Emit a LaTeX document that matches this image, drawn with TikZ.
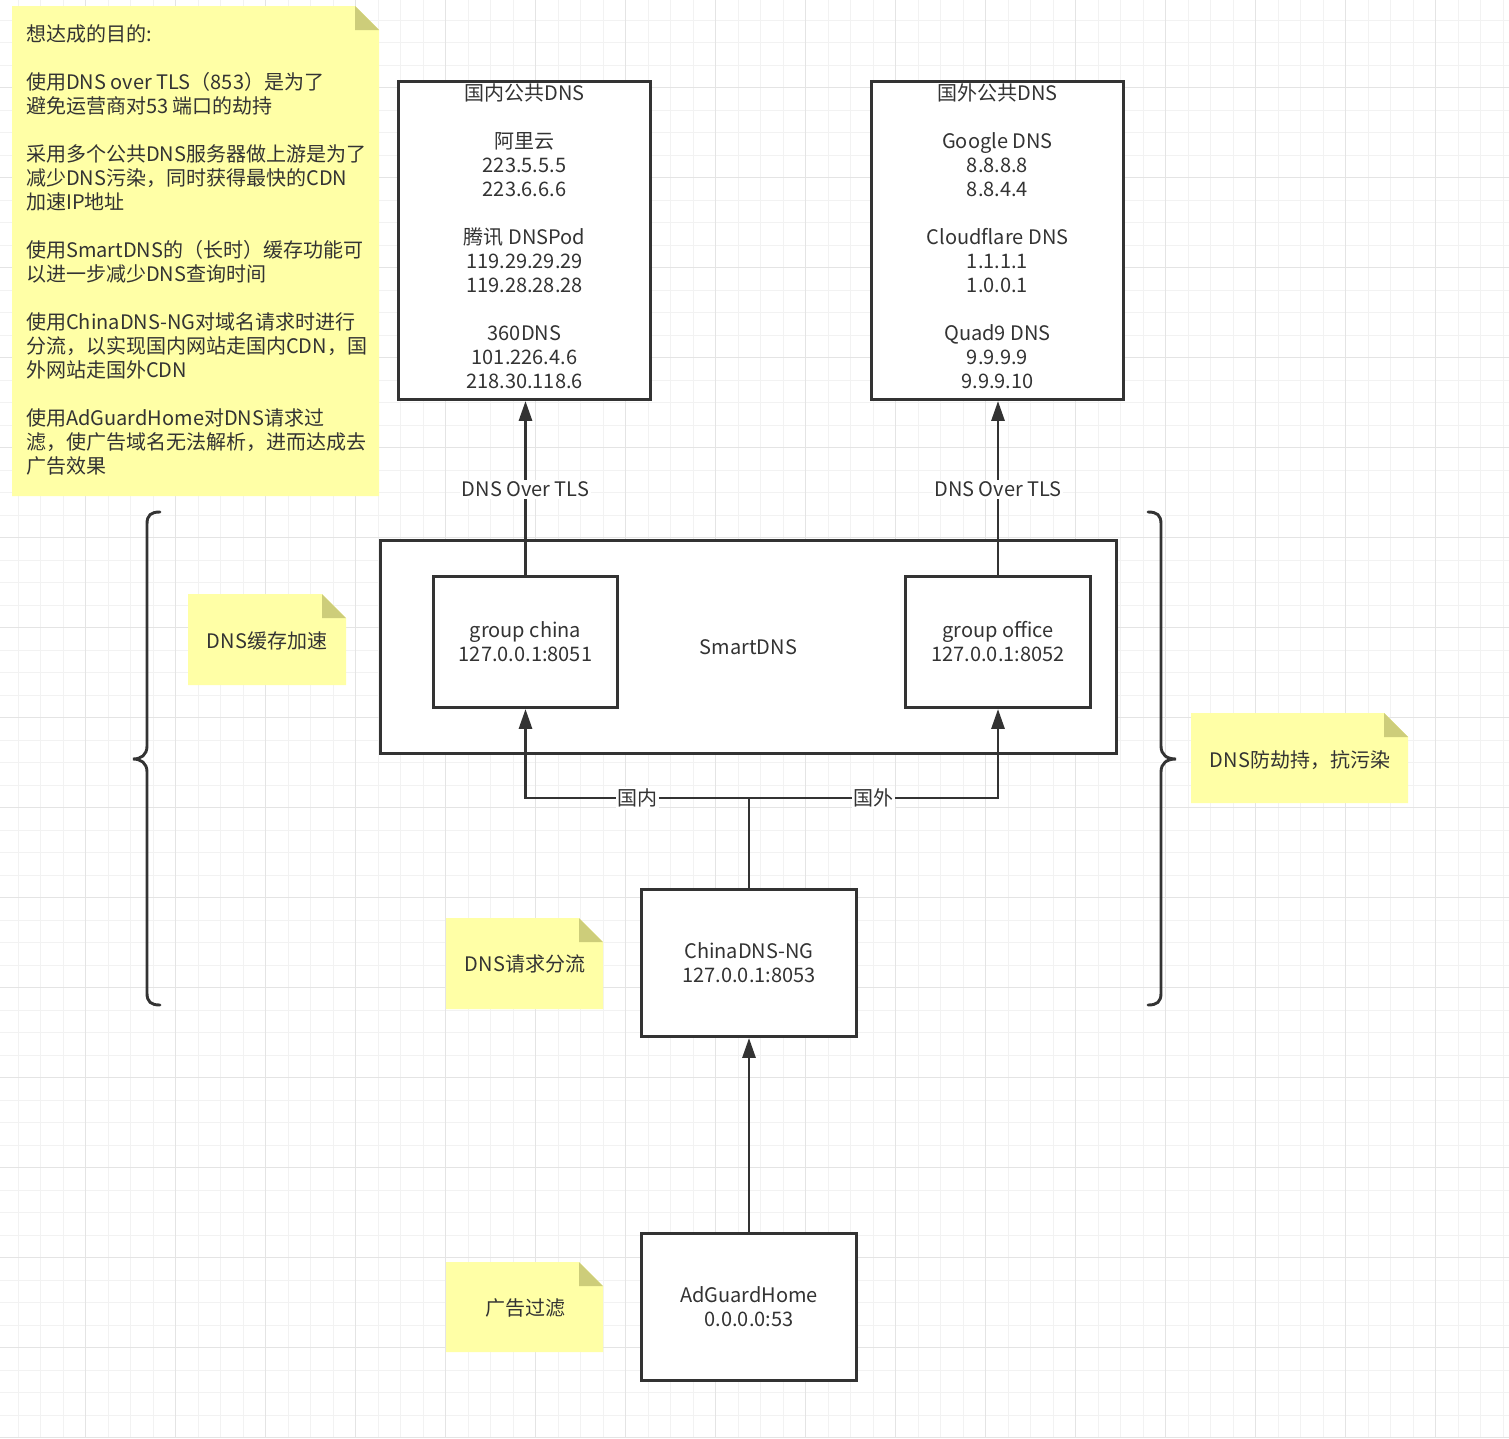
\documentclass[tikz,border=0pt]{standalone}
\usepackage{fontspec}
\setmainfont{Noto Sans CJK SC}
\usetikzlibrary{arrows.meta}
\definecolor{ink}{HTML}{333333}
\definecolor{gridminor}{HTML}{F2F2F2}
\definecolor{gridmajor}{HTML}{E4E4E4}
\definecolor{notefill}{HTML}{FFFFA6}
\definecolor{notefold}{HTML}{CDCD7A}
\begin{document}
\begin{tikzpicture}[x=1pt,y=-1pt,
  txt/.style={font=\fontsize{20}{24}\selectfont, text=ink, inner sep=0pt},
  box/.style={draw=ink, line width=2.9pt, fill=white, inner sep=0pt},
  lbl/.style={txt, fill=white, inner sep=1.5pt},
  conn/.style={draw=ink, line width=2.9pt, -{Triangle[length=20pt,width=13pt]}},
  brace/.style={draw=ink, line width=2.9pt, line cap=round},
  notebg/.style={fill=notefill},
  notecorner/.style={fill=notefold}]
\useasboundingbox (0,0) rectangle (1509,1438);
\fill[white] (0,0) rectangle (1509,1438);
% grid
\foreach \k in {0,...,66}{\draw[gridminor, line width=1.2pt] ({18.2+22.5*\k},0) -- ({18.2+22.5*\k},1438);}
\foreach \k in {0,...,63}{\draw[gridminor, line width=1.2pt] (0,{20.2+22.5*\k}) -- (1509,{20.2+22.5*\k});}
\foreach \k in {3,7,...,66}{\draw[gridmajor, line width=1.2pt] ({18.2+22.5*\k},0) -- ({18.2+22.5*\k},1438);}
\foreach \k in {3,7,...,63}{\draw[gridmajor, line width=1.2pt] (0,{20.2+22.5*\k}) -- (1509,{20.2+22.5*\k});}

% big note
\fill[notebg] (12,6) -- (355,6) -- (379,30) -- (379,496) -- (12,496) -- cycle;
\fill[notecorner] (355,6) -- (355,30) -- (379,30) -- cycle;
\node[txt, align=left, anchor=west] (goal) at (26,250) {想达成的目的:\\[24pt]使用DNS over TLS（853）是为了\\避免运营商对53 端口的劫持\\[24pt]采用多个公共DNS服务器做上游是为了\\减少DNS污染，同时获得最快的CDN\\加速IP地址\\[24pt]使用SmartDNS的（长时）缓存功能可\\以进一步减少DNS查询时间\\[24pt]使用ChinaDNS-NG对域名请求时进行\\分流，以实现国内网站走国内CDN，国\\外网站走国外CDN\\[24pt]使用AdGuardHome对DNS请求过\\滤，使广告域名无法解析，进而达成去\\广告效果};

% small notes
\fill[notebg] (188,594) -- (322,594) -- (346,618) -- (346,685) -- (188,685) -- cycle;
\fill[notecorner] (322,594) -- (322,618) -- (346,618) -- cycle;
\node[txt] (n1) at (267,641) {DNS缓存加速};

\fill[notebg] (1191,713) -- (1384,713) -- (1408,737) -- (1408,803) -- (1191,803) -- cycle;
\fill[notecorner] (1384,713) -- (1384,737) -- (1408,737) -- cycle;
\node[txt] (n2) at (1300,760) {DNS防劫持，抗污染};

\fill[notebg] (446,918) -- (579,918) -- (603,942) -- (603,1009) -- (446,1009) -- cycle;
\fill[notecorner] (579,918) -- (579,942) -- (603,942) -- cycle;
\node[txt] (n3) at (525,964) {DNS请求分流};

\fill[notebg] (446,1262) -- (579,1262) -- (603,1286) -- (603,1352) -- (446,1352) -- cycle;
\fill[notecorner] (579,1262) -- (579,1286) -- (603,1286) -- cycle;
\node[txt] (n4) at (525,1308) {广告过滤};

% braces
\draw[brace] (160,512) .. controls (151,512) and (147,515) .. (147,524) -- (147,746) .. controls (147,755) and (141,759) .. (133,759) .. controls (141,759) and (147,763) .. (147,772) -- (147,993) .. controls (147,1002) and (151,1005) .. (160,1005);
\draw[brace] (1148,512) .. controls (1157,512) and (1161,515) .. (1161,524) -- (1161,746) .. controls (1161,755) and (1167,759) .. (1176,759) .. controls (1167,759) and (1161,763) .. (1161,772) -- (1161,993) .. controls (1161,1002) and (1157,1005) .. (1148,1005);

% boxes
\node[box, minimum width=252pt, minimum height=318pt] (cn) at (524.8,240.5) {};
\node[txt, align=center] (cnt) at (524.5,236.5) {国内公共DNS\\[24pt]阿里云\\223.5.5.5\\223.6.6.6\\[24pt]腾讯 DNSPod\\119.29.29.29\\119.28.28.28\\[24pt]360DNS\\101.226.4.6\\218.30.118.6};
\node[box, minimum width=252pt, minimum height=318pt] (fn) at (997.5,240.5) {};
\node[txt, align=center] (fnt) at (997.5,236.5) {国外公共DNS\\[24pt]Google DNS\\8.8.8.8\\8.8.4.4\\[24pt]Cloudflare DNS\\1.1.1.1\\1.0.0.1\\[24pt]Quad9 DNS\\9.9.9.9\\9.9.9.10};

\node[box, txt, minimum width=736pt, minimum height=213pt] (sd) at (748.5,647) {SmartDNS};
\node[box, txt, align=center, minimum width=184pt, minimum height=131pt] (gc) at (525.5,642) {group china\\127.0.0.1:8051};
\node[box, txt, align=center, minimum width=185pt, minimum height=131pt] (go) at (998,642) {group office\\127.0.0.1:8052};
\node[box, txt, align=center, minimum width=215pt, minimum height=147pt] (cd) at (749,963) {ChinaDNS-NG\\127.0.0.1:8053};
\node[box, txt, align=center, minimum width=215pt, minimum height=147pt] (ag) at (749,1307) {AdGuardHome\\0.0.0.0:53};

% connectors
\draw[conn] (gc.north) -- node[lbl, yshift=-1.5pt]{DNS Over TLS} (gc.north |- cn.south);
\draw[conn] (go.north) -- node[lbl, yshift=-1.5pt]{DNS Over TLS} (go.north |- fn.south);
\coordinate (jn) at (749,798);
\draw[conn] (cd.north) -- (jn) -| node[lbl, pos=0.25]{国内} (gc.south);
\draw[conn] (cd.north) -- (jn) -| node[lbl, pos=0.25]{国外} (go.south);
\draw[conn] (ag.north) -- (cd.south);
\end{tikzpicture}
\end{document}
